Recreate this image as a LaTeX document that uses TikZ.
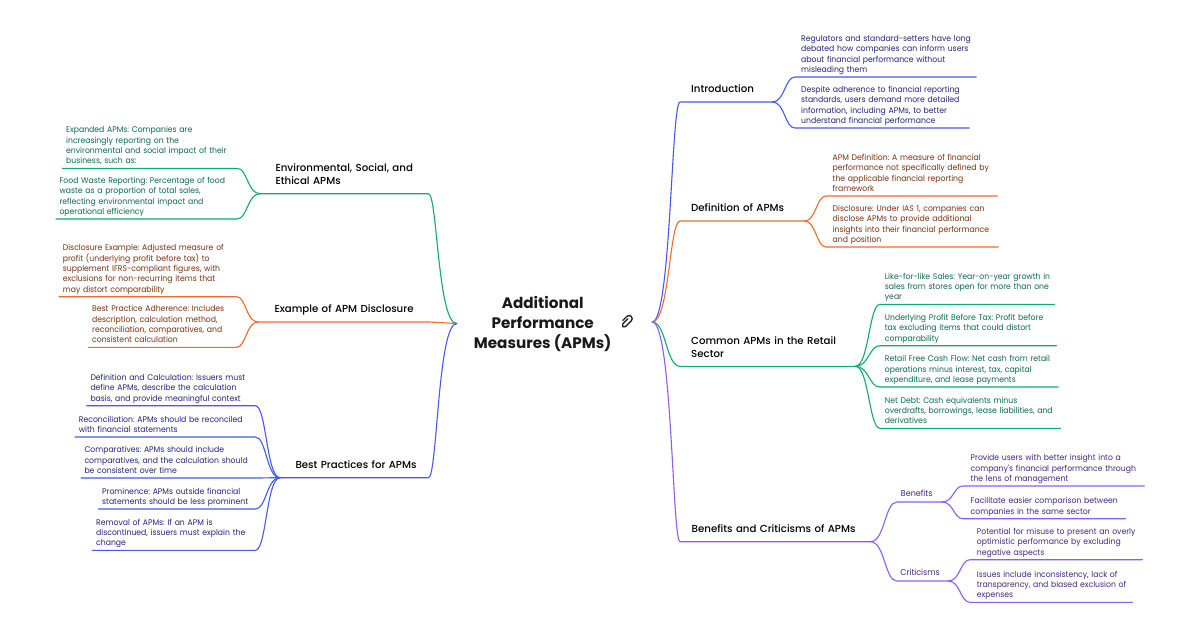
\documentclass[tikz,border=0pt]{standalone}
\usepackage{fontspec}
\setmainfont{Poppins}
\newfontfamily\lfont[FakeStretch=0.94]{Poppins}
\newfontfamily\mfont{Poppins Medium}
\usetikzlibrary{calc}
\frenchspacing
\definecolor{lblue}{HTML}{4658F2}
\definecolor{lorange}{HTML}{F4692A}
\definecolor{lgreen}{HTML}{0BAE6A}
\definecolor{lpurple}{HTML}{8E5CF0}
\definecolor{tblue}{HTML}{22227C}
\definecolor{torange}{HTML}{78300F}
\definecolor{tgreen}{HTML}{0A6A47}
\definecolor{tpurple}{HTML}{44257F}
\tikzset{
  lf/.style={inner ysep=0pt,anchor=south west,font={\frenchspacing\lfont\fontsize{8.2}{10.3}\selectfont},execute at end node={\rule[-4.5pt]{0pt}{1pt}}},
  br/.style={inner ysep=0pt,anchor=south west,text=black,font={\mfont\fontsize{10.2}{13}\selectfont},execute at end node={\rule[-9.1pt]{0pt}{1pt}}},
  sb/.style={lf,font={\lfont\fontsize{8.5}{10.3}\selectfont},execute at end node={\rule[-5.3pt]{0pt}{1pt}}},
  wire/.style={line width=1.1pt,line cap=round,line join=round},
}
% \nd{style}{name}{left x}{right x}{line y}{left inset}{text}
\newcommand{\nd}[7]{%
  \pgfmathsetmacro{\nwdt}{#4-#3-2*#6}%
  \node[#1,inner xsep=#6pt,text width=\nwdt pt] (#2) at (#3,#5) {\makebox[\nwdt pt][l]{\begin{tabular}[b]{@{}l@{}}#7\end{tabular}}};}
% \cn{colour}{from}{start of line}{end of line}{fraction}
\newcommand{\cn}[5]{%
  \draw[wire,#1] (#2) .. controls ($(#2)!#5!(#2 -| #3)$) and ($(#2 |- #3)!#5!(#3)$) .. (#3) -- (#4);}
\begin{document}
\begin{tikzpicture}[x=1pt,y=-1pt]
\useasboundingbox (0,0) rectangle (1200,633);
% centre
\node[minimum width=171.4pt,inner sep=0pt,align=center,font={\fontsize{15.2}{20}\selectfont\bfseries},text=black!90] (root) at (542.7,323.5) {Additional\\Performance\\Measures (APMs)};
\node[minimum width=50pt,minimum height=14pt,inner sep=0pt] (clip) at (627,322) {};
\begin{scope}[shift={(626,322)},x={(.85pt,-.85pt)},y={(.85pt,.85pt)},line width=1.4pt,black!85,line cap=round]
\draw (-.8,3) -- (-.8,-3) arc[start angle=180,end angle=360,radius=1.6] -- (2.4,3.8) arc[start angle=0,end angle=180,radius=2.6] -- (-2.8,-1);
\end{scope}
% right: Introduction
\nd{br,text=black}{intro}{680}{772}{102}{11}{Introduction}
\nd{lf,text=tblue}{i1}{795}{976}{77}{6}{Regulators and standard-setters have long\\debated how companies can inform users\\about financial performance without\\misleading them}
\nd{lf,text=tblue}{i2}{795}{969}{128}{6}{Despite adherence to financial reporting\\standards, users demand more detailed\\information, including APMs, to better\\understand financial performance}
\cn{lblue}{clip.east}{intro.south west}{intro.south east}{.68}
\cn{lblue}{intro.south east}{i1.south west}{i1.south east}{.55}
\cn{lblue}{intro.south east}{i2.south west}{i2.south east}{.55}
% Definition
\nd{br}{def}{680}{804}{221}{11}{Definition of APMs}
\nd{lf,text=torange}{d1}{826}{997}{196}{6.5}{APM Definition: A measure of financial\\performance not specifically defined by\\the applicable financial reporting\\framework}
\nd{lf,text=torange}{d2}{826}{998}{247}{6.5}{Disclosure: Under IAS 1, companies can\\disclose APMs to provide additional\\insights into their financial performance\\and position}
\cn{lorange}{clip.east}{def.south west}{def.south east}{.62}
\cn{lorange}{def.south east}{d1.south west}{d1.south east}{.55}
\cn{lorange}{def.south east}{d2.south west}{d2.south east}{.55}
% Common
\nd{br}{com}{680}{855}{366.3}{11}{Common APMs in the Retail\\Sector}
\nd{lf,text=tgreen}{c1}{880}{1054}{304.3}{4.7}{Like-for-like Sales: Year-on-year growth in\\sales from stores open for more than one\\year}
\nd{lf,text=tgreen}{c2}{880}{1056}{345.7}{4.7}{Underlying Profit Before Tax: Profit before\\tax excluding items that could distort\\comparability}
\nd{lf,text=tgreen}{c3}{880}{1058}{387}{4.7}{Retail Free Cash Flow: Net cash from retail\\operations minus interest, tax, capital\\expenditure, and lease payments}
\nd{lf,text=tgreen}{c4}{880}{1060}{428.3}{4.7}{Net Debt: Cash equivalents minus\\overdrafts, borrowings, lease liabilities, and\\derivatives}
\cn{lgreen}{clip.east}{com.south west}{com.south east}{.5}
\cn{lgreen}{com.south east}{c1.south west}{c1.south east}{.55}
\cn{lgreen}{com.south east}{c2.south west}{c2.south east}{.55}
\cn{lgreen}{com.south east}{c3.south west}{c3.south east}{.55}
\cn{lgreen}{com.south east}{c4.south west}{c4.south east}{.55}
% Benefits and Criticisms
\nd{br}{ben}{680}{870}{541.7}{11.5}{Benefits and Criticisms of APMs}
\nd{sb,text=tpurple}{bb}{896.7}{941.7}{502}{4}{Benefits}
\nd{sb,text=tpurple}{cc}{896.7}{948}{581}{3.5}{Criticisms}
\nd{lf,text=tpurple}{b1}{963}{1144}{486}{7.5}{Provide users with better insight into a\\company's financial performance through\\the lens of management}
\nd{lf,text=tpurple}{b2}{963}{1125}{518.7}{7.5}{Facilitate easier comparison between\\companies in the same sector}
\nd{lf,text=tpurple}{r1}{970}{1142}{559.7}{6.7}{Potential for misuse to present an overly\\optimistic performance by excluding\\negative aspects}
\nd{lf,text=tpurple}{r2}{970}{1132}{602.3}{6.7}{Issues include inconsistency, lack of\\transparency, and biased exclusion of\\expenses}
\cn{lpurple}{clip.east}{ben.south west}{ben.south east}{.72}
\cn{lpurple}{ben.south east}{bb.south west}{bb.south east}{.55}
\cn{lpurple}{ben.south east}{cc.south west}{cc.south east}{.55}
\cn{lpurple}{bb.south east}{b1.south west}{b1.south east}{.55}
\cn{lpurple}{bb.south east}{b2.south west}{b2.south east}{.55}
\cn{lpurple}{cc.south east}{r1.south west}{r1.south east}{.55}
\cn{lpurple}{cc.south east}{r2.south west}{r2.south east}{.55}
% left: Environmental
\nd{br}{env}{260}{428}{193.7}{15.3}{Environmental, Social, and\\Ethical APMs}
\nd{lf,text=tgreen}{e1}{62.3}{236.7}{168.3}{3.7}{Expanded APMs: Companies are\\increasingly reporting on the\\environmental and social impact of their\\business, such as:}
\nd{lf,text=tgreen}{e2}{56}{236.7}{219}{3.3}{Food Waste Reporting: Percentage of food\\waste as a proportion of total sales,\\reflecting environmental impact and\\operational efficiency}
\cn{lgreen}{root.west}{env.south east}{env.south west}{.68}
\cn{lgreen}{env.south west}{e1.south east}{e1.south west}{.55}
\cn{lgreen}{env.south west}{e2.south east}{e2.south west}{.55}
% Example
\nd{br}{exa}{258}{429}{322}{16.3}{Example of APM Disclosure}
\nd{lf,text=torange}{x1}{59}{236}{296.7}{3.7}{Disclosure Example: Adjusted measure of\\profit (underlying profit before tax) to\\supplement IFRS-compliant figures, with\\exclusions for non-recurring items that\\may distort comparability}
\nd{lf,text=torange}{x2}{88.3}{236}{347.3}{3.7}{Best Practice Adherence: Includes\\description, calculation method,\\reconciliation, comparatives, and\\consistent calculation}
\draw[wire,lorange] (root.west) -- (exa.south east) -- (exa.south west);
\cn{lorange}{exa.south west}{x1.south east}{x1.south west}{.55}
\cn{lorange}{exa.south west}{x2.south east}{x2.south west}{.55}
% Best practices
\nd{br}{bes}{280}{428}{477.7}{15.3}{Best Practices for APMs}
\nd{lf,text=tblue}{p1}{86.7}{255}{405.7}{3.6}{Definition and Calculation: Issuers must\\define APMs, describe the calculation\\basis, and provide meaningful context}
\nd{lf,text=tblue}{p2}{75}{255}{437}{3.7}{Reconciliation: APMs should be reconciled\\with financial statements}
\nd{lf,text=tblue}{p3}{81}{255}{478}{3.3}{Comparatives: APMs should include\\comparatives, and the calculation should\\be consistent over time}
\nd{lf,text=tblue}{p4}{98.3}{255}{509}{3.7}{Prominence: APMs outside financial\\statements should be less prominent}
\nd{lf,text=tblue}{p5}{92.3}{255}{550.3}{3.7}{Removal of APMs: If an APM is\\discontinued, issuers must explain the\\change}
\cn{lblue}{root.west}{bes.south east}{bes.south west}{.68}
\cn{lblue}{bes.south west}{p1.south east}{p1.south west}{.55}
\cn{lblue}{bes.south west}{p2.south east}{p2.south west}{.55}
\cn{lblue}{bes.south west}{p3.south east}{p3.south west}{.55}
\cn{lblue}{bes.south west}{p4.south east}{p4.south west}{.55}
\cn{lblue}{bes.south west}{p5.south east}{p5.south west}{.55}
\end{tikzpicture}
\end{document}
